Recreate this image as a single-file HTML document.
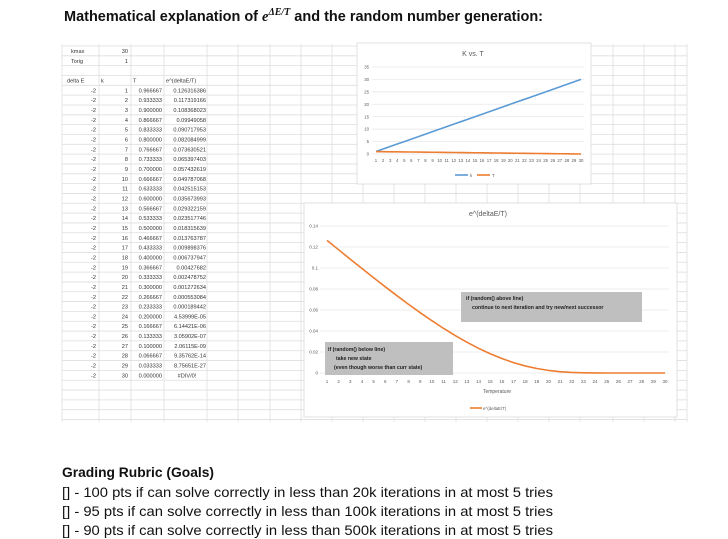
<!DOCTYPE html>
<html><head><meta charset="utf-8">
<style>
html,body{margin:0;padding:0;background:#fff;}
svg{display:block;font-family:"Liberation Sans",sans-serif;}
</style></head>
<body>
<svg id="root" width="728" height="539" viewBox="0 0 728 539" xmlns="http://www.w3.org/2000/svg">
  <text x="64" y="21" font-size="14.5" font-weight="bold" fill="#111" textLength="479" lengthAdjust="spacingAndGlyphs">Mathematical explanation of <tspan font-family="Liberation Serif" font-style="italic">e</tspan><tspan font-family="Liberation Serif" font-style="italic" font-size="10" dy="-6">ΔE/T</tspan><tspan dy="6"> and the random number generation:</tspan></text>
  <g id="sheet"></g>
  <g id="chart1"></g>
  <g id="chart2"></g>
  <text x="62" y="477" font-size="14" font-weight="bold" fill="#111" textLength="152" lengthAdjust="spacingAndGlyphs">Grading Rubric (Goals)</text>
  <text x="62" y="497" font-size="14" fill="#111" textLength="491" lengthAdjust="spacingAndGlyphs">[] - 100 pts if can solve correctly in less than 20k iterations in at most 5 tries</text>
  <text x="62" y="516" font-size="14" fill="#111" textLength="491" lengthAdjust="spacingAndGlyphs">[] - 95 pts if can solve correctly in less than 100k iterations in at most 5 tries</text>
  <text x="62" y="535" font-size="14" fill="#111" textLength="491" lengthAdjust="spacingAndGlyphs">[] - 90 pts if can solve correctly in less than 500k iterations in at most 5 tries</text>
</svg>
<script>
const kValues = [1,2,3,4,5,6,7,8,9,10,11,12,13,14,15,16,17,18,19,20,21,22,23,24,25,26,27,28,29,30];
const tValues = [0.966667,0.933333,0.900000,0.866667,0.833333,0.800000,0.766667,0.733333,0.700000,0.666667,0.633333,0.600000,0.566667,0.533333,0.500000,0.466667,0.433333,0.400000,0.366667,0.333333,0.300000,0.266667,0.233333,0.200000,0.166667,0.133333,0.100000,0.066667,0.033333,0.000000];
const expValues = [0.126316386,0.117319166,0.108368023,0.09949058,0.090717953,0.082084999,0.073630521,0.065397403,0.057432619,0.049787068,0.042515153,0.035673993,0.029322159,0.023517746,0.018315639,0.013763787,0.009898376,0.006737947,0.00427682,0.002478752,0.001272634,0.000553084,0.000189442,0.0000453999,0.00000614421,0.000000305902,0.00000000206115,9.35762e-14,8.75651e-27,0];
const expLabels = ["0.126316386","0.117319166","0.108368023","0.09949058","0.090717953","0.082084999","0.073630521","0.065397403","0.057432619","0.049787068","0.042515153","0.035673993","0.029322159","0.023517746","0.018315639","0.013763787","0.009898376","0.006737947","0.00427682","0.002478752","0.001272634","0.000553084","0.000189442","4.53999E-05","6.14421E-06","3.05902E-07","2.06115E-09","9.35762E-14","8.75651E-27","#DIV/0!"];
const deltaE = -2;
const kTicks = [0,5,10,15,20,25,30,35];
const expTicks = [0,0.02,0.04,0.06,0.08,0.1,0.12,0.14];
const expTickLabels = ["0","0.02","0.04","0.06","0.08","0.1","0.12","0.14"];

const NS="http://www.w3.org/2000/svg";
function mk(tag,attrs,parent,txt){const e=document.createElementNS(NS,tag);for(const k in attrs)e.setAttribute(k,attrs[k]);if(txt!==undefined)e.textContent=txt;parent.appendChild(e);return e;}

// ---------- spreadsheet ----------
const sheet=document.getElementById('sheet');
const colX=[62,99,131,164,207,238,270,301,332,363,394,425,456,487,518,549,580,613,644,675,687];
const rowH=9.83, rowTop=46;
for(let i=0;i<=38;i++){const y=rowTop+i*rowH;const l=mk('line',{x1:62,x2:687,y1:y,y2:y,stroke:'#dedede','stroke-width':0.8},sheet);

}
colX.forEach(x=>{const l=mk('line',{x1:x,x2:x,y1:44,y2:422,stroke:'#dedede','stroke-width':0.8},sheet);

});
function cell(txt,x,row,anchor,name){const t=mk('text',{x:x,y:rowTop+row*rowH+7,'font-size':5.6,fill:'#333','text-anchor':anchor},sheet,txt);

}
cell('kmax',71,0,'start','kmax-label');cell('30',128,0,'end','kmax-value');
cell('Torig',71,1,'start','torig-label');cell('1',128,1,'end','torig-value');
cell('delta E',67,3,'start','header-delta-e');cell('k',101,3,'start','header-k');cell('T',133,3,'start','header-t');cell('e^(deltaE/T)',166,3,'start','header-exp');
kValues.forEach((k,i)=>{const r=4+i;
 cell(String(deltaE),96,r,'end','cell-delta-e');
 cell(String(k),128,r,'end','cell-k');
 cell(tValues[i].toFixed(6),162,r,'end','cell-t');
 if(expLabels[i]==='#DIV/0!'){cell(expLabels[i],187,r,'middle','cell-exp');}
 else{cell(expLabels[i],206,r,'end','cell-exp');}
});

// ---------- chart 1: K vs T ----------
const c1=document.getElementById('chart1');
mk('rect',{x:357,y:43,width:234,height:141,fill:'#fff',stroke:'#d9d9d9','stroke-width':0.8},c1);
const t1=mk('text',{x:473,y:56,'font-size':7,fill:'#595959','text-anchor':'middle'},c1,'K vs. T');


const c1x=v=>376+(v-1)*(581-376)/29;
const c1y=v=>154-v*(154-67)/35;
kTicks.forEach(v=>{const g=mk('line',{x1:372,x2:584,y1:c1y(v),y2:c1y(v),stroke:'#e6e6e6','stroke-width':0.7},c1);


const t=mk('text',{x:369,y:c1y(v)+1.6,'font-size':4.3,fill:'#595959','text-anchor':'end'},c1,String(v));

});
kValues.forEach(k=>{const t=mk('text',{x:c1x(k),y:162,'font-size':4.3,fill:'#595959','text-anchor':'middle'},c1,String(k));

});
const p1=mk('polyline',{points:kValues.map((k,i)=>c1x(k)+','+c1y(kValues[i])).join(' '),fill:'none',stroke:'#5b9bd5','stroke-width':1.6},c1);


const p2=mk('polyline',{points:kValues.map((k,i)=>c1x(k)+','+c1y(tValues[i])).join(' '),fill:'none',stroke:'#ed7d31','stroke-width':1.6},c1);


const lg1=mk('g',{},c1);


mk('line',{x1:455,x2:468,y1:175,y2:175,stroke:'#5b9bd5','stroke-width':1.6},lg1);
mk('text',{x:470,y:177,'font-size':4.5,fill:'#595959'},lg1,'k');
mk('line',{x1:477,x2:490,y1:175,y2:175,stroke:'#ed7d31','stroke-width':1.6},lg1);
mk('text',{x:492,y:177,'font-size':4.5,fill:'#595959'},lg1,'T');

// ---------- chart 2: e^(deltaE/T) ----------
const c2=document.getElementById('chart2');
mk('rect',{x:304,y:203,width:373,height:214,fill:'#fff',stroke:'#d9d9d9','stroke-width':0.8},c2);
const t2=mk('text',{x:488,y:216,'font-size':7,fill:'#595959','text-anchor':'middle'},c2,'e^(deltaE/T)');


const c2x=v=>327+(v-1)*(665-327)/29;
const c2y=v=>373-v*(373-226)/0.14;
expTicks.forEach((v,i)=>{const g=mk('line',{x1:320,x2:669,y1:c2y(v),y2:c2y(v),stroke:'#e6e6e6','stroke-width':0.7},c2);


const t=mk('text',{x:318,y:c2y(v)+1.6,'font-size':4.5,fill:'#595959','text-anchor':'end'},c2,expTickLabels[i]);

});
kValues.forEach(k=>{const t=mk('text',{x:c2x(k),y:383,'font-size':4.5,fill:'#595959','text-anchor':'middle'},c2,String(k));

});
const xt=mk('text',{x:497,y:393,'font-size':5,fill:'#595959','text-anchor':'middle'},c2,'Temperature');


const p3=mk('polyline',{points:kValues.map((k,i)=>c2x(k)+','+c2y(expValues[i])).join(' '),fill:'none',stroke:'#ed7d31','stroke-width':1.6,'stroke-linejoin':'round'},c2);


const lg2=mk('g',{},c2);


mk('line',{x1:470,x2:482,y1:408,y2:408,stroke:'#ed7d31','stroke-width':1.6},lg2);
mk('text',{x:483,y:410,'font-size':4.3,fill:'#595959'},lg2,'e^(deltaE/T)');
// annotation boxes
const b1=mk('g',{},c2);


mk('rect',{x:461,y:292,width:181,height:30,fill:'#bfbfbf'},b1);
mk('text',{x:466,y:300,'font-size':5.2,'font-weight':'bold',fill:'#222'},b1,'if (random() above line)');
mk('text',{x:472,y:309,'font-size':5.2,'font-weight':'bold',fill:'#222'},b1,'continue to next iteration and try new/next successor');
const b2=mk('g',{},c2);


mk('rect',{x:325,y:342,width:128,height:33,fill:'#bfbfbf'},b2);
mk('text',{x:328,y:351,'font-size':5.2,'font-weight':'bold',fill:'#222'},b2,'if (random() below line)');
mk('text',{x:336,y:360,'font-size':5.2,'font-weight':'bold',fill:'#222'},b2,'take new state');
mk('text',{x:334,y:369,'font-size':5.2,'font-weight':'bold',fill:'#222'},b2,'(even though worse than curr state)');
</script>
</body></html>
